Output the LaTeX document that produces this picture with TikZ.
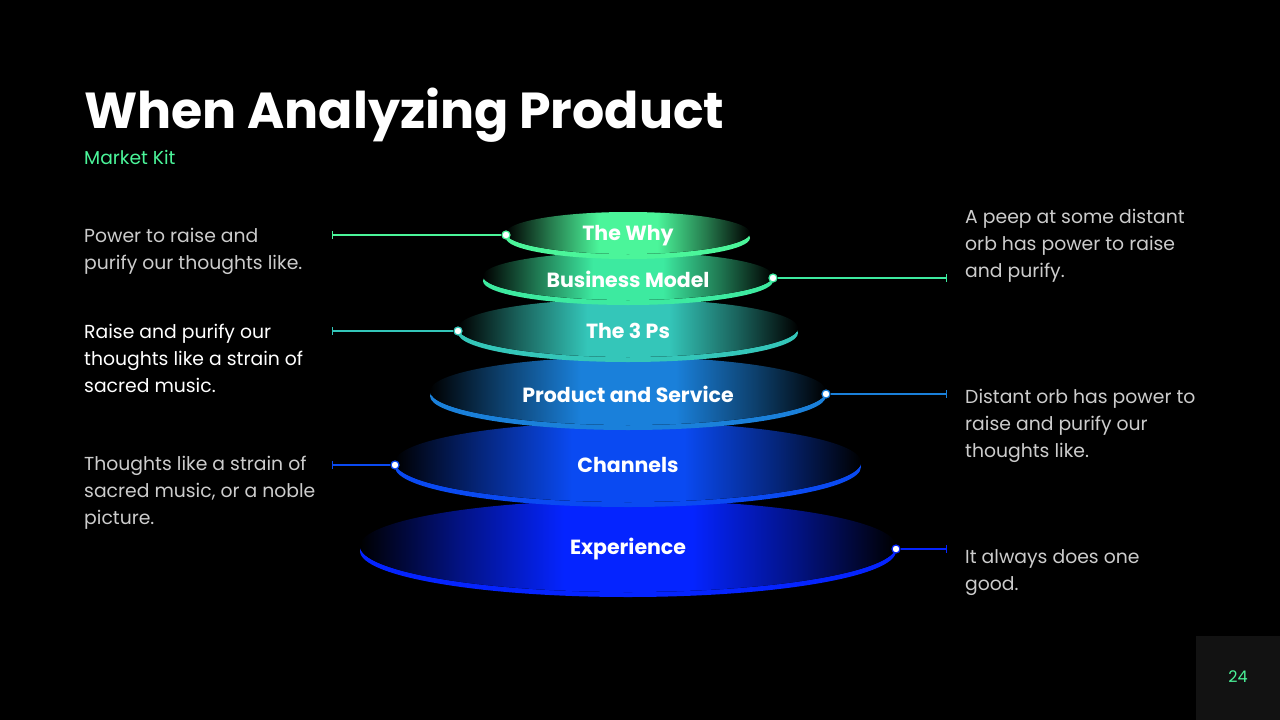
\documentclass[tikz,border=0pt]{standalone}
\usepackage{fontspec}
\setmainfont{Poppins}
\begin{document}
\begin{tikzpicture}[x=1pt,y=-1pt,
  lbl/.style={font=\fontsize{20.5}{24}\selectfont\bfseries,text=white},
  txt/.style={anchor=north west,align=left,inner sep=0pt,font=\fontsize{18.8}{27}\selectfont,text=black!20!white},
  dot/.style={circle,fill=white,draw=#1,line width=1.2pt,inner sep=0pt,minimum size=8pt},
  con/.style={draw=#1,line width=1.2pt,|-}]
\useasboundingbox[fill=black] (0,0) rectangle (1280,720);
\definecolor{c1}{HTML}{4BF59A}\definecolor{c2}{HTML}{3DEAA0}\definecolor{c3}{HTML}{34C6B9}
\definecolor{c4}{HTML}{1A80DA}\definecolor{c5}{HTML}{0A4AF2}\definecolor{c6}{HTML}{0524FF}
\definecolor{mk}{HTML}{4BF59A}
\foreach \c in {c1,c2,c3,c4,c5,c6}{%
  \pgfdeclarehorizontalshading{sh\c}{100bp}{color(0bp)=(black); color(25bp)=(black); color(34bp)=(\c!50!black); color(44bp)=(\c); color(56bp)=(\c); color(66bp)=(\c!50!black); color(75bp)=(black); color(100bp)=(black)}}
\newcommand\disc[6]{% name, cy, rx, ry, color, label
  \fill[#5] (628,#2+5) ellipse [x radius=#3, y radius=#4];
  \fill[shading=sh#5] (628,#2) ellipse [x radius=#3, y radius=#4];
  \node[lbl] (#1) at (628,#2+3) {#6};}
\disc{d6}{546}{268}{46}{c6}{Experience}
\disc{d5}{462}{233}{40}{c5}{Channels}
\disc{d4}{391}{198}{34}{c4}{Product and Service}
\disc{d3}{328}{170}{29}{c3}{The 3 Ps}
\disc{d2}{276}{145}{24}{c2}{Business Model}
\disc{d1}{233}{122}{21}{c1}{The Why}
\node[dot=c1] (p1) at (506,235) {};
\node[dot=c2] (p2) at (773,278) {};
\node[dot=c3] (p3) at (458,331) {};
\node[dot=c4] (p4) at (826,394) {};
\node[dot=c5] (p5) at (395,465) {};
\node[dot=c6] (p6) at (896,549) {};
\coordinate (e1) at (332,235);\coordinate (e2) at (947,278);\coordinate (e3) at (332,331);
\coordinate (e4) at (947,394);\coordinate (e5) at (332,465);\coordinate (e6) at (947,549);
\draw[con=c1] (e1) -- (p1);\draw[con=c2] (e2) -- (p2);\draw[con=c3] (e3) -- (p3);
\draw[con=c4] (e4) -- (p4);\draw[con=c5] (e5) -- (p5);\draw[con=c6] (e6) -- (p6);
\node[anchor=base west,inner sep=0pt,text=white,font=\fontsize{50.6}{60}\selectfont\bfseries] (title) at (84,128) {When Analyzing Product};
\node[anchor=base west,inner sep=0pt,text=mk,font=\fontsize{18.7}{22}\selectfont] (sub) at (84,164) {Market Kit};
\node[txt] (l1) at (84,228) {Power to raise and\\purify our thoughts like.};
\node[txt,text=white] (l2) at (84,324) {Raise and\ purify our\\thoughts like a strain of\\sacred music.};
\node[txt] (l3) at (84,456) {Thoughts like a strain of\\sacred music, or a noble\\picture.};
\node[txt] (r1) at (965,209) {A peep at some distant\\orb has power to raise\\and purify.};
\node[txt] (r2) at (965,389) {Distant orb has power to\\raise and purify our\\thoughts like.};
\node[txt] (r3) at (965,549) {It always does one\\good.};
\fill[black!93!white] (1196,636) rectangle (1280,720);
\node[text=mk,font=\fontsize{16}{18}\selectfont] (pg) at (1238,677) {24};
\end{tikzpicture}
\end{document}
